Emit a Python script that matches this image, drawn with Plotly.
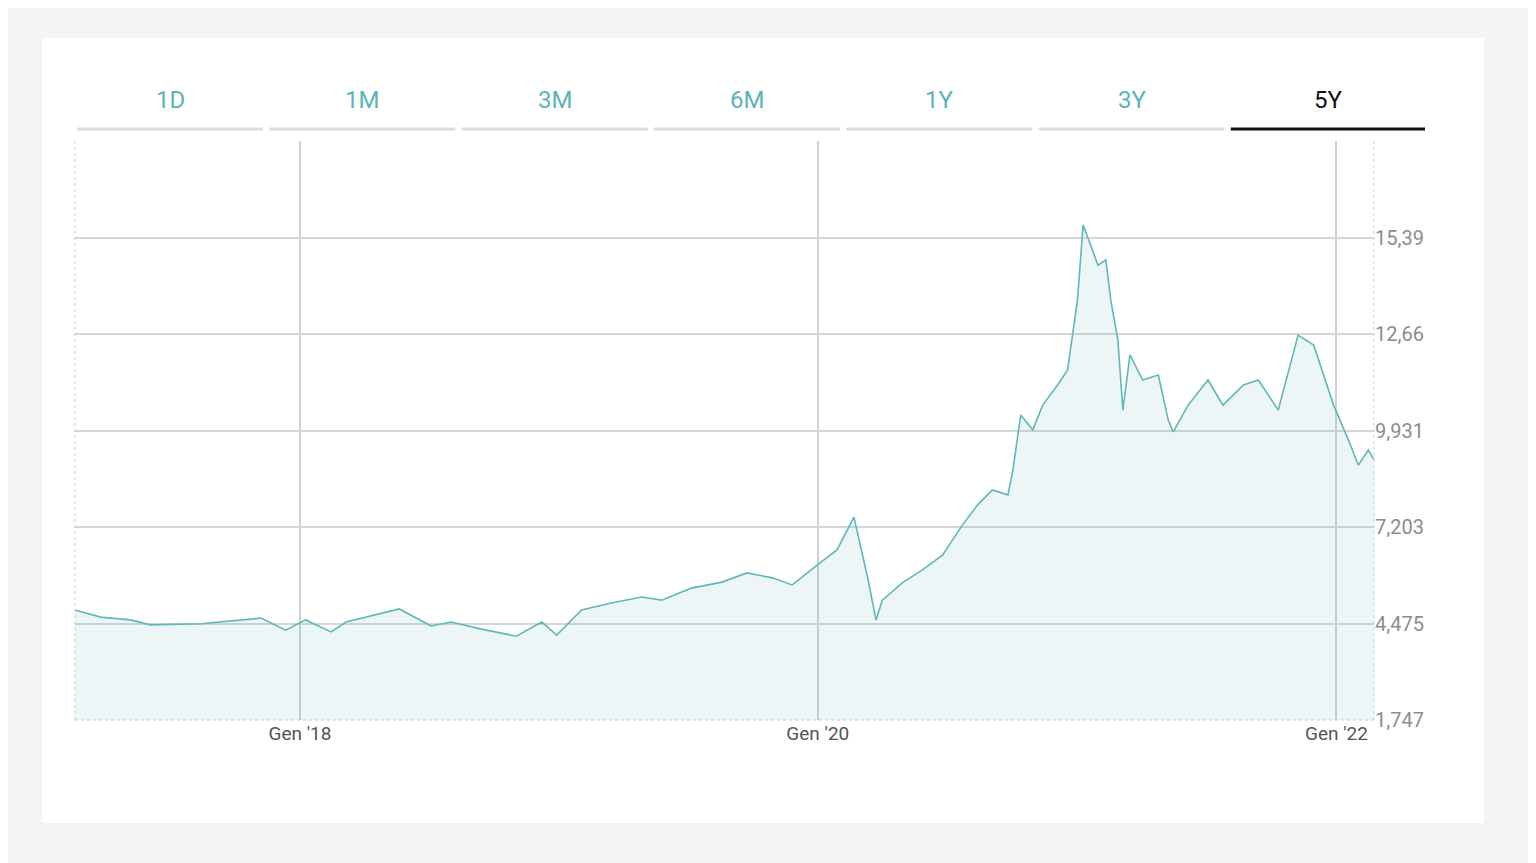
import pandas as pd
import plotly.graph_objects as go

DATES = ["2017-02-18", "2017-03-26", "2017-05-07", "2017-06-04", "2017-08-14", "2017-11-07",
         "2017-12-12", "2018-01-09", "2018-02-14", "2018-03-07", "2018-05-21", "2018-07-05",
         "2018-08-02", "2018-09-14", "2018-11-02", "2018-12-08", "2018-12-29", "2019-02-02",
         "2019-03-16", "2019-04-28", "2019-05-26", "2019-07-07", "2019-08-19", "2019-09-23",
         "2019-10-29", "2019-11-26", "2019-12-31", "2020-01-28", "2020-02-21", "2020-03-01",
         "2020-03-12", "2020-03-23", "2020-04-01", "2020-04-29", "2020-05-27", "2020-06-25",
         "2020-07-23", "2020-08-13", "2020-09-03", "2020-09-25", "2020-10-02", "2020-10-13",
         "2020-10-30", "2020-11-13", "2020-12-04", "2020-12-18", "2021-01-01", "2021-01-09",
         "2021-01-20", "2021-01-30", "2021-02-10", "2021-02-17", "2021-02-27", "2021-03-06",
         "2021-03-16", "2021-04-03", "2021-04-25", "2021-05-09", "2021-05-16", "2021-06-06",
         "2021-07-04", "2021-07-25", "2021-08-23", "2021-09-13", "2021-10-11", "2021-11-08",
         "2021-11-30", "2021-12-14", "2021-12-28", "2022-01-18", "2022-02-01", "2022-02-15",
         "2022-02-23"]
PRICES = [4.86, 4.66, 4.58, 4.44, 4.47, 4.63, 4.29, 4.58, 4.24, 4.52, 4.89, 4.41,
          4.52, 4.32, 4.12, 4.52, 4.15, 4.86, 5.06, 5.23, 5.14, 5.48, 5.65, 5.91,
          5.77, 5.57, 6.13, 6.56, 7.49, 6.70, 5.71, 4.58, 5.14, 5.63, 5.99, 6.42,
          7.27, 7.83, 8.26, 8.12, 8.82, 10.38, 9.96, 10.66, 11.23, 11.65, 13.63, 15.76,
          15.19, 14.62, 14.77, 13.63, 12.50, 10.52, 12.08, 11.37, 11.51, 10.24, 9.90, 10.66,
          11.37, 10.66, 11.23, 11.37, 10.52, 12.64, 12.36, 11.51, 10.66, 9.67, 8.96, 9.39,
          9.11]
Y_TICKS = [1.747, 4.475, 7.203, 9.931, 12.66, 15.39]
Y_LABELS = ["1,747", "4,475", "7,203", "9,931", "12,66", "15,39"]
X_TICKS = ["2018-01-01", "2020-01-01", "2022-01-01"]
X_LABELS = ["Gen '18", "Gen '20", "Gen '22"]
TABS = ["1D", "1M", "3M", "6M", "1Y", "3Y", "5Y"]

# page body has an 8px margin, so screen pixels are shifted by OFF
OFF = 8
W, H = 1536, 863
L, R, T, B = 75 - OFF, 162 + OFF, 141 - OFF, 143 + OFF
PW, PH = W - L - R, H - T - B


def px_x(x):
    return (x - OFF - L) / PW


def px_y(y):
    return (H - B - (y - OFF)) / PH


fig = go.Figure()
fig.add_trace(go.Scatter(
    x=pd.to_datetime(DATES), y=PRICES, mode="lines",
    line=dict(color="#5fb8b8", width=1.6),
    fill="tozeroy", fillcolor="rgba(95,184,184,0.12)",
    hoverinfo="skip",
))

shapes = [
    dict(type="rect", xref="paper", yref="paper", x0=px_x(42), x1=px_x(1484),
         y0=px_y(823), y1=px_y(38), fillcolor="white", line=dict(width=0), layer="below"),
    dict(type="line", xref="paper", yref="paper", x0=0, x1=0, y0=0, y1=1,
         line=dict(color="#c8cccf", width=1, dash="dot")),
    dict(type="line", xref="paper", yref="paper", x0=1, x1=1, y0=0, y1=1,
         line=dict(color="#c8cccf", width=1, dash="dot")),
    dict(type="line", xref="paper", yref="paper", x0=0, x1=1, y0=0, y1=0,
         line=dict(color="#c8cccf", width=1, dash="dot")),
]
annotations = []
for i, tab in enumerate(TABS):
    x0 = 77 + i * 192.3
    x1 = x0 + 186 if i < 6 else 1425
    active = i == len(TABS) - 1
    shapes.append(dict(type="line", xref="paper", yref="paper",
                       x0=px_x(x0), x1=px_x(x1), y0=px_y(129), y1=px_y(129),
                       line=dict(color="#111111" if active else "#d9dde0", width=3)))
    annotations.append(dict(xref="paper", yref="paper", x=px_x((x0 + x1) / 2), y=px_y(100),
                            xanchor="center", yanchor="middle",
                            text=tab, showarrow=False,
                            font=dict(size=24, color="#111111" if active else "#5ab5b5",
                                      family="Roboto")))

fig.update_layout(
    width=W, height=H,
    margin=dict(l=L, r=R, t=T, b=B),
    paper_bgcolor="#f3f4f6", plot_bgcolor="white",
    showlegend=False,
    shapes=shapes, annotations=annotations,
    xaxis=dict(range=[pd.Timestamp("2017-02-18"), pd.Timestamp("2022-02-23")],
               tickvals=pd.to_datetime(X_TICKS), ticktext=X_LABELS,
               showgrid=True, gridcolor="#cfd2d4", gridwidth=1.5, zeroline=False,
               tickfont=dict(size=19, color="#555555", family="Roboto"),
               ticks="", showline=False),
    yaxis=dict(range=[1.747, 1.747 + 579 * 13.643 / 482], side="right",
               tickvals=Y_TICKS, ticktext=Y_LABELS,
               showgrid=True, gridcolor="#d4d7d9", gridwidth=1.5, zeroline=False,
               tickfont=dict(size=20, color="#8a8d90", family="Roboto"),
               ticks="", showline=False),
)
fig.write_html("out.html")
